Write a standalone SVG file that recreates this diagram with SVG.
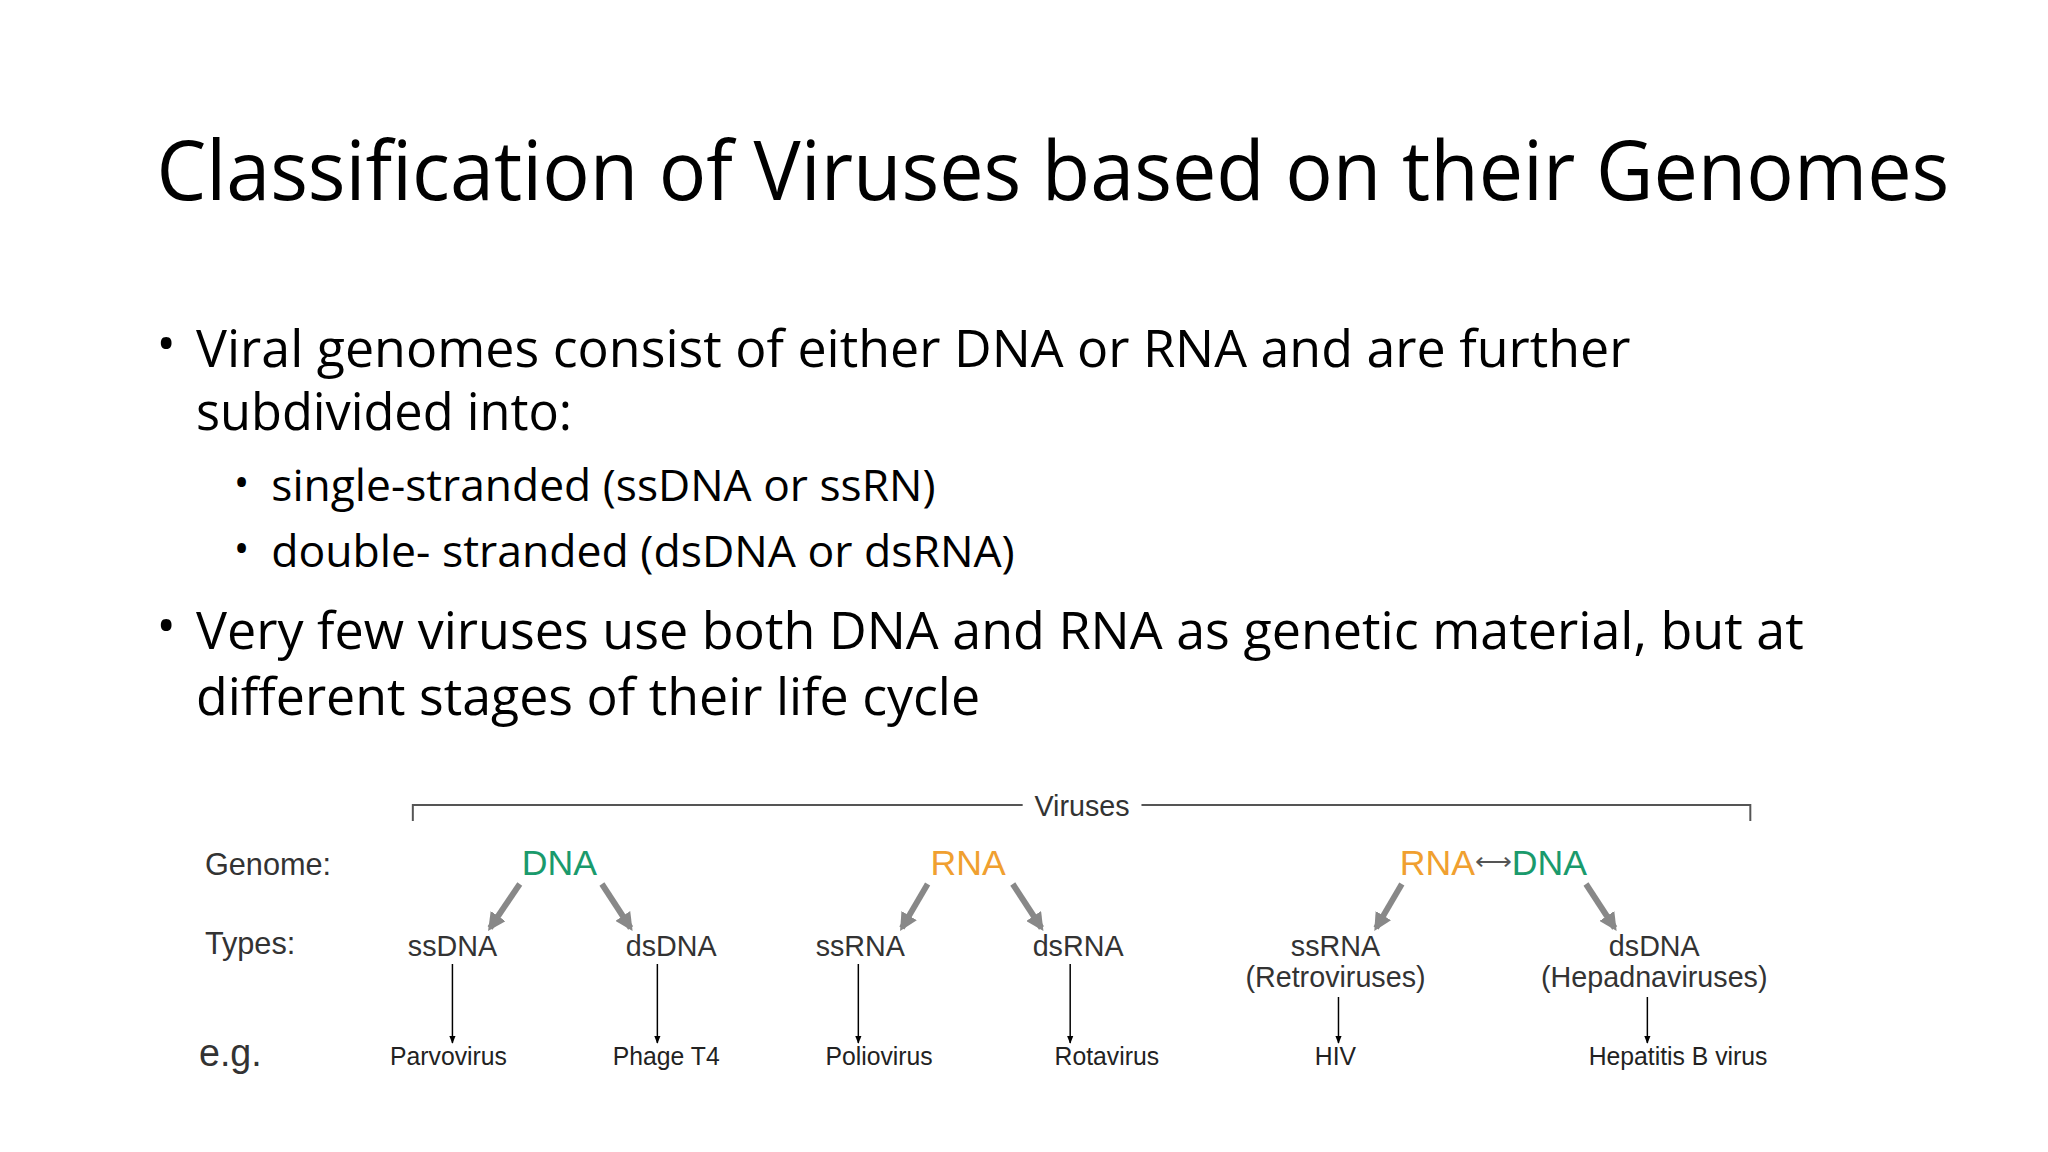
<svg xmlns="http://www.w3.org/2000/svg" width="2048" height="1152" viewBox="0 0 2048 1152">
<style>
.t{font-family:"Open Sans","Liberation Sans",sans-serif;fill:#000}
.d{font-family:"Liberation Sans",Arial,sans-serif;fill:#333}
.c{font-family:"Liberation Sans",Arial,sans-serif;fill:#333;font-size:29px;text-anchor:middle}
.e{font-family:"Liberation Sans",Arial,sans-serif;fill:#222;font-size:25px;text-anchor:middle}
.g{stroke:#888;stroke-width:6;fill:none;marker-end:url(#ga)}
.k{stroke:#000;stroke-width:1.5;fill:none;marker-end:url(#ka)}
</style>
<defs>
<marker id="ga" viewBox="0 0 10 10" refX="8" refY="5" markerWidth="3" markerHeight="3" orient="auto"><path d="M0,0L10,5L0,10z" fill="#888"/></marker>
<marker id="ka" viewBox="0 0 10 10" refX="9" refY="5" markerWidth="8" markerHeight="8" orient="auto" markerUnits="userSpaceOnUse"><path d="M0,1L10,5L0,9z" fill="#000"/></marker>
</defs>
<rect width="2048" height="1152" fill="#fff"/>
<g transform="scale(0.99,1)">
<text class="t" x="158" y="200" font-size="82" textLength="1811" lengthAdjust="spacingAndGlyphs">Classification of Viruses based on their Genomes</text>
<g class="t" font-size="51">
<text x="158" y="362" font-size="52">•</text>
<text x="198" y="367" textLength="1449" lengthAdjust="spacingAndGlyphs">Viral genomes consist of either DNA or RNA and are further</text>
<text x="198" y="430">subdivided into:</text>
<text x="236" y="497" font-size="42">•</text>
<text x="274" y="501" font-size="44" textLength="671" lengthAdjust="spacingAndGlyphs">single-stranded (ssDNA or ssRN)</text>
<text x="236" y="563" font-size="42">•</text>
<text x="274" y="567" font-size="44" textLength="751" lengthAdjust="spacingAndGlyphs">double- stranded (dsDNA or dsRNA)</text>
<text x="158" y="644" font-size="52">•</text>
<text x="198" y="649" textLength="1624" lengthAdjust="spacingAndGlyphs">Very few viruses use both DNA and RNA as genetic material, but at</text>
<text x="198" y="715" textLength="792" lengthAdjust="spacingAndGlyphs">different stages of their life cycle</text>
</g>
<g id="viruses">
<path d="M417,821V805H1033M1153,805H1768V821" stroke="#555" stroke-width="2" fill="none"/>
<text class="c" x="1093" y="816" font-size="33">Viruses</text>
</g>
<g id="rowlabels" class="d" font-size="31">
<text x="207" y="875">Genome:</text>
<text x="207" y="954">Types:</text>
<text x="201" y="1066" font-size="38">e.g.</text>
</g>
<g id="genomes" font-family="Liberation Sans,Arial,sans-serif" font-size="36" text-anchor="middle">
<text x="565" y="875" fill="#1a9a6c">DNA</text>
<text x="978" y="875" fill="#f0a030">RNA</text>
<text x="1452" y="875" fill="#f0a030">RNA</text>
<text x="1508" y="870" fill="#555" font-size="26">⟷</text>
<text x="1565" y="875" fill="#1a9a6c">DNA</text>
</g>
<g id="types">
<text class="c" x="457" y="956">ssDNA</text>
<text class="c" x="678" y="956">dsDNA</text>
<text class="c" x="869" y="956">ssRNA</text>
<text class="c" x="1089" y="956">dsRNA</text>
<text class="c" x="1349" y="956">ssRNA</text>
<text class="c" x="1349" y="987">(Retroviruses)</text>
<text class="c" x="1671" y="956">dsDNA</text>
<text class="c" x="1671" y="987">(Hepadnaviruses)</text>
</g>
<g id="examples">
<text class="e" x="453" y="1065">Parvovirus</text>
<text class="e" x="673" y="1065">Phage T4</text>
<text class="e" x="888" y="1065">Poliovirus</text>
<text class="e" x="1118" y="1065">Rotavirus</text>
<text class="e" x="1349" y="1065">HIV</text>
<text class="e" x="1695" y="1065">Hepatitis B virus</text>
</g>
<g id="connectors">
<line class="g" x1="525" y1="884" x2="495" y2="928"/>
<line class="g" x1="608" y1="884" x2="637" y2="928"/>
<line class="g" x1="937" y1="884" x2="911" y2="928"/>
<line class="g" x1="1023" y1="884" x2="1052" y2="928"/>
<line class="g" x1="1416" y1="884" x2="1390" y2="928"/>
<line class="g" x1="1602" y1="884" x2="1631" y2="928"/>
<line class="k" x1="457" y1="964" x2="457" y2="1043"/>
<line class="k" x1="664" y1="964" x2="664" y2="1043"/>
<line class="k" x1="867" y1="964" x2="867" y2="1043"/>
<line class="k" x1="1081" y1="964" x2="1081" y2="1043"/>
<line class="k" x1="1352" y1="997" x2="1352" y2="1043"/>
<line class="k" x1="1664" y1="997" x2="1664" y2="1043"/>
</g>
</g>
</svg>
